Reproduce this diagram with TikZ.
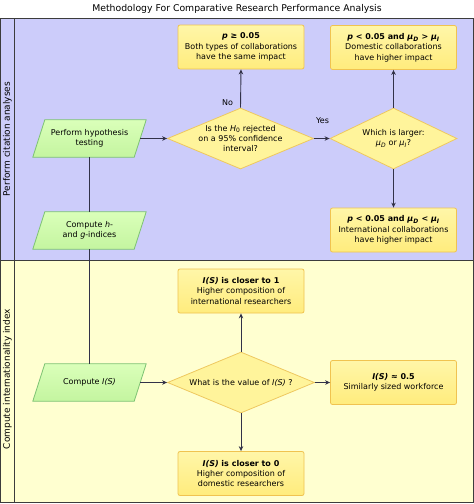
\documentclass[tikz,border=0pt]{standalone}
\usepackage{fontspec}
\setmainfont{DejaVu Sans}
\usetikzlibrary{shapes.geometric,arrows.meta,calc}
\pgfdeclarelayer{lanes}
\pgfdeclarelayer{mid}
\pgfsetlayers{lanes,mid,main}
\definecolor{laneA}{RGB}{204,204,250}
\definecolor{laneB}{RGB}{255,255,208}
\definecolor{boxtop}{RGB}{255,246,168}
\definecolor{boxbot}{RGB}{255,236,125}
\definecolor{boxdraw}{RGB}{240,195,80}
\definecolor{diafill}{RGB}{255,244,155}
\definecolor{diadraw}{RGB}{238,200,95}
\definecolor{paratop}{RGB}{218,255,185}
\definecolor{parabot}{RGB}{196,245,160}
\definecolor{paradraw}{RGB}{125,195,115}
\definecolor{linec}{RGB}{50,50,72}
\definecolor{framec}{RGB}{60,60,60}
\tikzset{
  bodyfont/.style={font=\fontsize{8}{10.3}\selectfont},
  resbox/.style={rectangle, rounded corners=2pt, draw=boxdraw, line width=0.8pt,
    top color=boxtop, bottom color=boxbot, minimum width=126pt, minimum height=44pt,
    inner sep=0pt, align=center, bodyfont},
  decision/.style={diamond, draw=diadraw, line width=0.8pt, fill=diafill,
    minimum width=146pt, minimum height=61pt, inner sep=0pt},
  dtext/.style={align=center, inner sep=0pt, bodyfont},
  datanode/.style={rectangle, minimum width=101pt, minimum height=37pt,
    inner sep=0pt, align=center, bodyfont},
  parashape/.style={draw=paradraw, line width=0.8pt, top color=paratop, bottom color=parabot},
  flow/.style={draw=linec, line width=0.9pt, -{Stealth[length=5pt,width=4.5pt]}},
  plain/.style={draw=linec, line width=0.9pt},
  frame/.style={draw=framec, line width=0.8pt},
  lanelabel/.style={rotate=90, font=\fontsize{9}{11}\selectfont},
  edgelabel/.style={bodyfont, inner sep=1pt},
}
\begin{document}
\begin{tikzpicture}[x=1pt,y=-1pt]
\useasboundingbox (0,0) rectangle (474,504);
\begin{pgfonlayer}{lanes}
  \fill[white] (0,0) rectangle (474,504);
  \fill[laneA] (0.5,18) rectangle (473.5,260);
  \fill[laneB] (0.5,260) rectangle (473.5,502);
  \draw[frame] (0.5,18) rectangle (473.5,502);
  \draw[frame] (14.5,18) -- (14.5,502);
  \draw[frame] (0.5,260) -- (473.5,260);
\end{pgfonlayer}

\node[font=\fontsize{9.3}{11}\selectfont] (title) at (237,9) {Methodology For Comparative Research Performance Analysis};
\node[lanelabel] (laneA) at (7.5,139) {Perform citation analyses};
\node[lanelabel] (laneB) at (7.5,379) {Compute internationality index};

% top lane
\node[resbox] (same) at (241,47) {\textbf{\textit{p} ≥ 0.05}\\Both types of collaborations\\have the same impact};
\node[resbox] (dom) at (393.5,47.5) {\textbf{\textit{p} < 0.05 and \textit{μ}\textsubscript{\textit{D}} > \textit{μ}\textsubscript{\textit{I}}}\\Domestic collaborations\\have higher impact};
\node[resbox] (intl) at (393.5,230) {\textbf{\textit{p} < 0.05 and \textit{μ}\textsubscript{\textit{D}} < \textit{μ}\textsubscript{\textit{I}}}\\International collaborations\\have higher impact};
\node[decision] (rej) at (240.5,138.5) {};
\node[dtext] (rejt) at (rej.center) {Is the \textit{H}\textsubscript{0} rejected\\on a 95\% confidence\\interval?};
\node[decision, minimum width=127pt] (larger) at (393.5,138.5) {};
\node[dtext] (largert) at (larger.center) {Which is larger:\\\textit{μ}\textsubscript{\textit{D}} or \textit{μ}\textsubscript{\textit{I}}?};
\node[datanode] (hyp) at (89.5,138.5) {Perform hypothesis\\testing};
\node[datanode] (hg) at (89.5,230.5) {Compute \textit{h}-\\and \textit{g}-indices};

% bottom lane
\node[resbox] (one) at (241,291) {\textbf{\textit{I(S)} is closer to 1}\\Higher composition of\\international researchers};
\node[decision, minimum width=147pt] (val) at (241,382.5) {};
\node[dtext] (valt) at (val.center) {What is the value of \textit{I(S)} ?};
\node[datanode] (cis) at (89.5,382.5) {Compute \textit{I(S)}};
\node[resbox] (half) at (393.5,382.5) {\textbf{\textit{I(S)} ≈ 0.5}\\Similarly sized workforce};
\node[resbox] (zero) at (241,473.5) {\textbf{\textit{I(S)} is closer to 0}\\Higher composition of\\domestic researchers};

\begin{pgfonlayer}{mid}
  \foreach \n in {hyp,hg,cis}{
    \path[parashape] ($(\n.south west)+(-6,0)$) -- ($(\n.south east)+(-6,0)$)
      -- ($(\n.north east)+(6,0)$) -- ($(\n.north west)+(6,0)$) -- cycle;
  }
\end{pgfonlayer}

% connectors
\draw[plain] (hyp.south) -- (hg.north);
\draw[plain] (hg.south) -- (cis.north);
\draw[flow] (hyp.east) -- (rej.west);
\draw[flow] (rej.east) -- (larger.west);
\node[edgelabel] (yes) at ($(larger.west)+(-7,-18)$) {Yes};
\draw[flow] (rej.north) -- (same.south);
\node[edgelabel] (no) at ($(rej.north)+(-13,-5)$) {No};
\draw[flow] (larger.north) -- (dom.south);
\draw[flow] (larger.south) -- (intl.north);
\draw[flow] (cis.east) -- (val.west);
\draw[flow] (val.north) -- (one.south);
\draw[flow] (val.east) -- (half.west);
\draw[flow] (val.south) -- (zero.north);
\end{tikzpicture}
\end{document}
